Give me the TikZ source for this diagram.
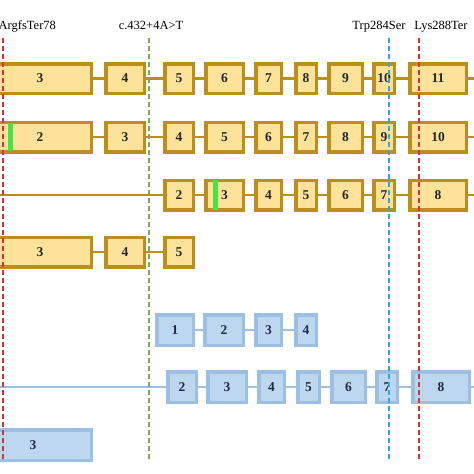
\documentclass[tikz,border=0pt]{standalone}
\usepackage{fontspec}
\setmainfont{Liberation Serif}
\usetikzlibrary{calc}
\definecolor{goldb}{HTML}{BC8E1E}
\definecolor{goldf}{HTML}{FDE39A}
\definecolor{blueb}{HTML}{9CC0E4}
\definecolor{bluef}{HTML}{BDD7EE}
\definecolor{vred}{HTML}{D8323F}
\definecolor{vgreen}{HTML}{7AAA52}
\definecolor{vblue}{HTML}{2AAAD6}
\definecolor{gmark}{HTML}{45E545}
\definecolor{navy}{HTML}{1E2B45}
\tikzset{
  gbox/.style={draw=goldb, fill=goldf, line width=3.5pt, inner sep=0pt, minimum height=29.5pt,
    font=\fontsize{13.5}{13.5}\selectfont\bfseries, text=black!85},
  bbox/.style={draw=blueb, fill=bluef, line width=3.5pt, inner sep=0pt, minimum height=30.5pt,
    font=\fontsize{13.5}{13.5}\selectfont\bfseries, text=navy},
  gline/.style={draw=goldb, line width=2.6pt},
  bline/.style={draw=blueb, line width=2.6pt},
  vline/.style={line width=1.3pt, dash pattern=on 5pt off 3pt},
  lab/.style={font=\fontsize{12.5}{12.5}\selectfont, inner sep=0pt, anchor=base}
}
\newcommand\gex[6]{\node[#6, minimum width={(#3-#2-3.5)*1pt}] (#1) at ({(#2+#3)/2},#4) {#5};}
\begin{document}
\begin{tikzpicture}[x=1pt,y=-1pt]
\useasboundingbox (0,0) rectangle (474,474);
\clip (0,0) rectangle (474,474);
% ---- row 1
\coordinate (r1e) at (480,78.5);
\gex{a3}{-13}{93}{78.5}{3}{gbox}
\gex{a4}{104}{146}{78.5}{4}{gbox}
\gex{a5}{163}{195}{78.5}{5}{gbox}
\gex{a6}{204}{245}{78.5}{6}{gbox}
\gex{a7}{254}{283}{78.5}{7}{gbox}
\gex{a8}{294}{318}{78.5}{8}{gbox}
\gex{a9}{327}{364}{78.5}{9}{gbox}
\gex{a10}{372}{396}{78.5}{10}{gbox}
\gex{a11}{408}{468}{78.5}{11}{gbox}
% ---- row 2
\coordinate (r2e) at (480,137);
\gex{b2}{-13}{93}{137}{2}{gbox}
\gex{b3}{104}{146}{137}{3}{gbox}
\gex{b4}{163}{195}{137}{4}{gbox}
\gex{b5}{204}{245}{137}{5}{gbox}
\gex{b6}{254}{283}{137}{6}{gbox}
\gex{b7}{294}{318}{137}{7}{gbox}
\gex{b8}{327}{364}{137}{8}{gbox}
\gex{b9}{372}{396}{137}{9}{gbox}
\gex{b10}{408}{468}{137}{10}{gbox}
\fill[gmark] (8,123) rectangle (12.5,151);
% ---- row 3
\coordinate (r3s) at (-5,195);
\coordinate (r3e) at (480,195);
\gex{c2}{163}{195}{195}{2}{gbox}
\gex{c3}{204}{245}{195}{3}{gbox}
\gex{c4}{254}{283}{195}{4}{gbox}
\gex{c5}{294}{318}{195}{5}{gbox}
\gex{c6}{327}{364}{195}{6}{gbox}
\gex{c7}{372}{396}{195}{7}{gbox}
\gex{c8}{408}{468}{195}{8}{gbox}
\fill[gmark] (213,180) rectangle (217.5,210);
% ---- row 4
\gex{d3}{-13}{93}{252}{3}{gbox}
\gex{d4}{104}{146}{252}{4}{gbox}
\gex{d5}{163}{195}{252}{5}{gbox}
% ---- row 5 (blue)
\gex{e1}{155}{195}{330}{1}{bbox}
\gex{e2}{203}{245}{330}{2}{bbox}
\gex{e3}{254}{283}{330}{3}{bbox}
\gex{e4}{294}{318}{330}{4}{bbox}
% ---- row 6 (blue)
\coordinate (r6s) at (-5,387);
\coordinate (r6e) at (480,387);
\gex{f2}{166}{198}{387}{2}{bbox}
\gex{f3}{206}{248}{387}{3}{bbox}
\gex{f4}{257}{286}{387}{4}{bbox}
\gex{f5}{296}{321}{387}{5}{bbox}
\gex{f6}{330}{367}{387}{6}{bbox}
\gex{f7}{375}{399}{387}{7}{bbox}
\gex{f8}{411}{471}{387}{8}{bbox}
% ---- row 7 (blue)
\gex{g3}{-27}{93}{445}{3}{bbox}
% ---- connectors (gold)
\draw[gline] (a3)--(a4); \draw[gline] (a4)--(a5); \draw[gline] (a5)--(a6); \draw[gline] (a6)--(a7);
\draw[gline] (a7)--(a8); \draw[gline] (a8)--(a9); \draw[gline] (a9)--(a10); \draw[gline] (a10)--(a11);
\draw[gline] (a11)--(r1e);
\draw[gline] (b2)--(b3); \draw[gline] (b3)--(b4); \draw[gline] (b4)--(b5); \draw[gline] (b5)--(b6);
\draw[gline] (b6)--(b7); \draw[gline] (b7)--(b8); \draw[gline] (b8)--(b9); \draw[gline] (b9)--(b10);
\draw[gline] (b10)--(r2e);
\draw[gline] (r3s)--(c2); \draw[gline] (c2)--(c3); \draw[gline] (c3)--(c4); \draw[gline] (c4)--(c5);
\draw[gline] (c5)--(c6); \draw[gline] (c6)--(c7); \draw[gline] (c7)--(c8); \draw[gline] (c8)--(r3e);
\draw[gline] (d3)--(d4); \draw[gline] (d4)--(d5);
% ---- connectors (blue)
\draw[bline] (e1)--(e2); \draw[bline] (e2)--(e3); \draw[bline] (e3)--(e4);
\draw[bline] (r6s)--(f2); \draw[bline] (f2)--(f3); \draw[bline] (f3)--(f4); \draw[bline] (f4)--(f5);
\draw[bline] (f5)--(f6); \draw[bline] (f6)--(f7); \draw[bline] (f7)--(f8); \draw[bline] (f8)--(r6e);
% ---- variant lines
\coordinate (v1t) at (3,38);   \coordinate (v1b) at (3,462);
\coordinate (v2t) at (149,38); \coordinate (v2b) at (149,462);
\coordinate (v3t) at (389,38); \coordinate (v3b) at (389,460);
\coordinate (v4t) at (419,38); \coordinate (v4b) at (419,460);
\draw[vline, vred] (v1t)--(v1b);
\draw[vline, vgreen] (v2t)--(v2b);
\draw[vline, vblue] (v3t)--(v3b);
\draw[vline, vred] (v4t)--(v4b);
% ---- labels
\node[lab, anchor=base west] (l1) at (-1.5,29.3) {ArgfsTer78};
\node[lab] (l2) at (151,29.3) {c.432+4A>T};
\node[lab] (l3) at (379,29.3) {Trp284Ser};
\node[lab] (l4) at (441,29.3) {Lys288Ter};
\end{tikzpicture}
\end{document}
